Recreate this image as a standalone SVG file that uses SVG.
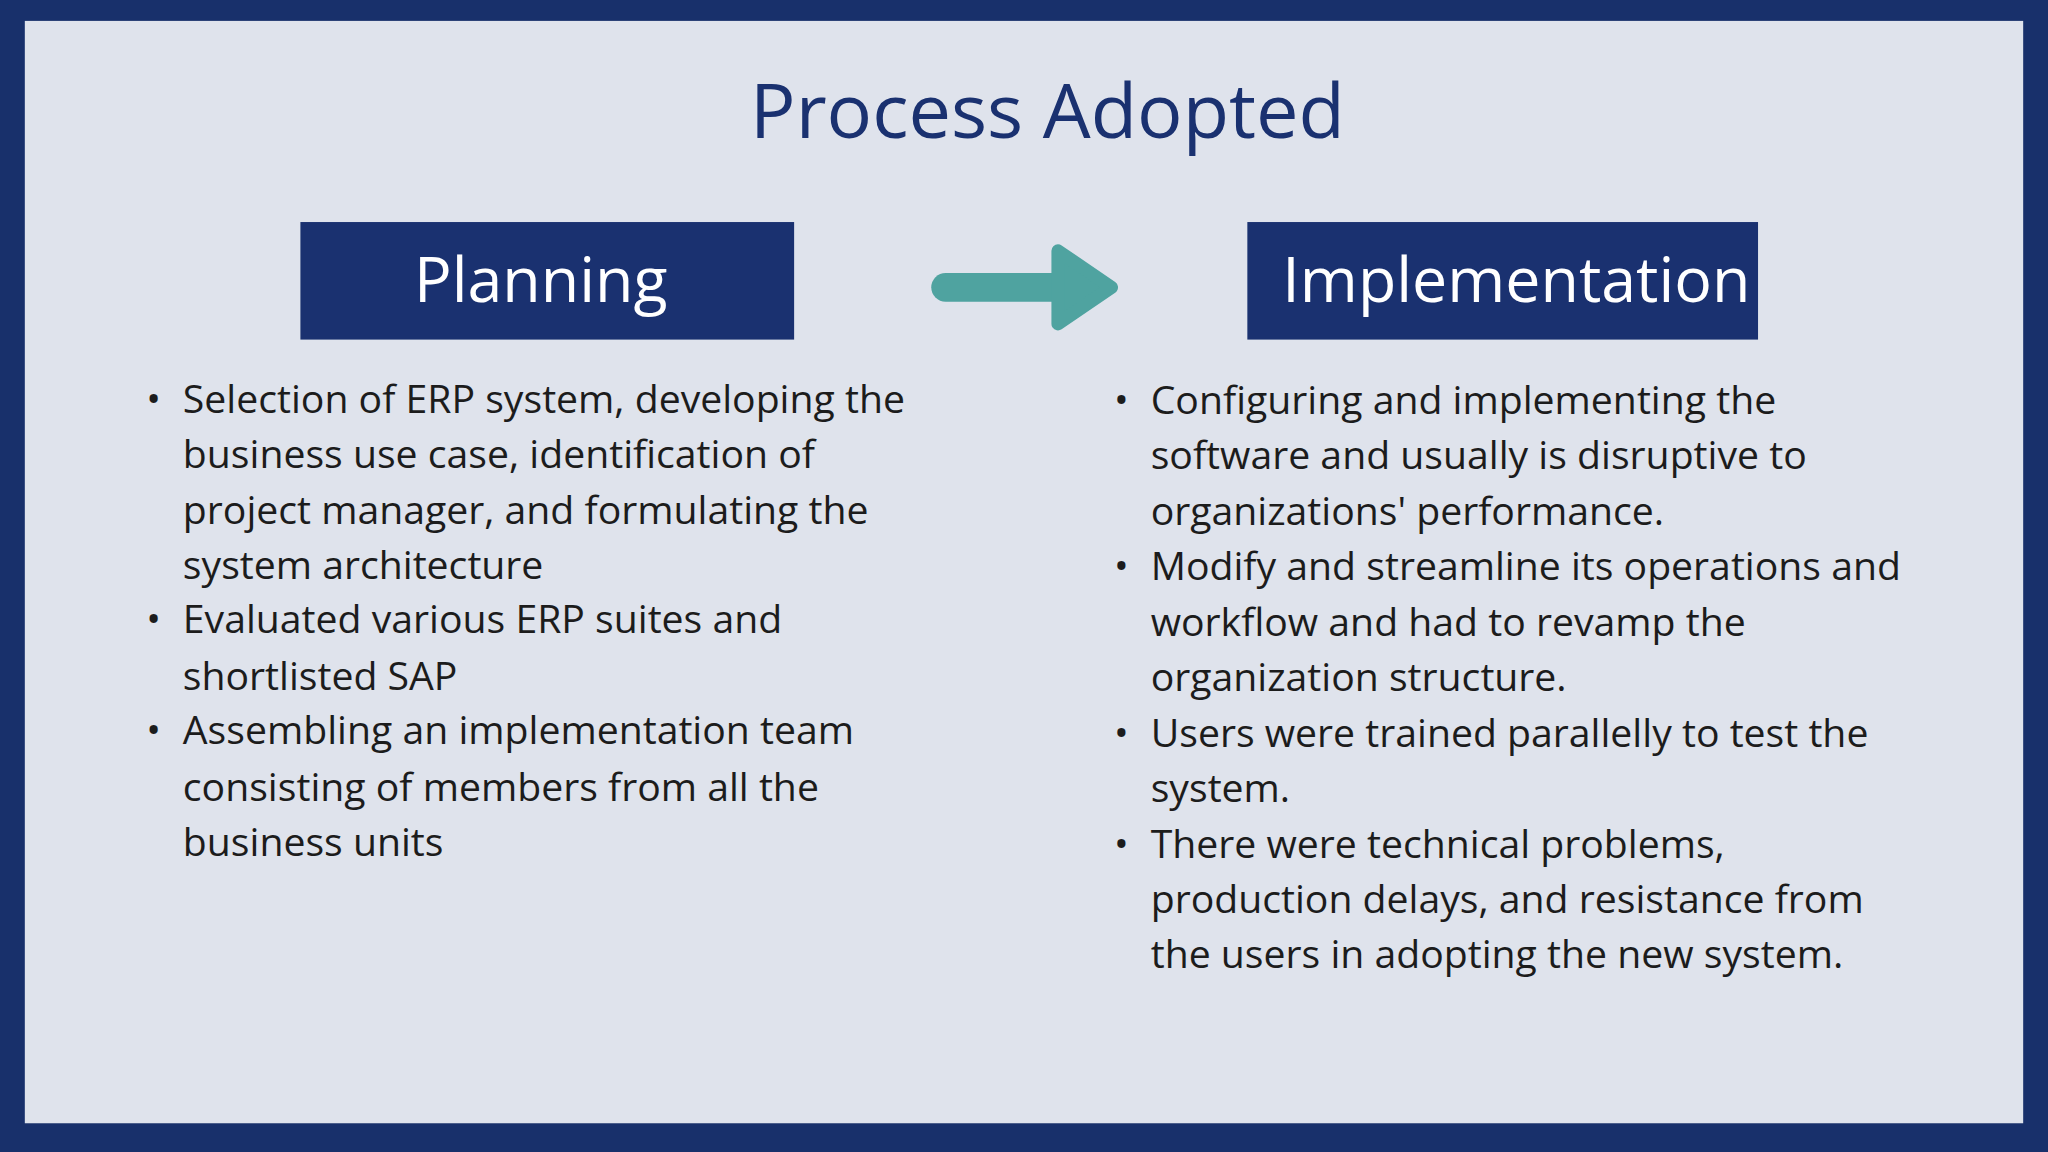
<svg xmlns="http://www.w3.org/2000/svg" width="2048" height="1152" viewBox="0 0 2048 1152">
<style>
.t{font-family:"Open Sans","Noto Sans",sans-serif;fill:#1c1c1c;font-size:30px}
.h{font-family:"Open Sans","Noto Sans",sans-serif;fill:#fff;font-size:48px;text-anchor:middle}
.b{fill:#1a3170}
</style>
<rect width="2048" height="1152" fill="#18306b"/>
<g transform="scale(1.30612)">
<rect x="19" y="16" width="1530" height="844" fill="#dfe3ec"/>
<text x="802" y="106" style="font-family:'Open Sans','Noto Sans',sans-serif;font-size:58px;fill:#1a3170;text-anchor:middle">Process Adopted</text>
<g id="planning"><rect class="b" x="230" y="170" width="378" height="90"/><text class="h" x="414" y="231">Planning</text></g>
<g id="implementation"><rect class="b" x="955" y="170" width="391" height="90"/><text class="h" x="1161" y="231">Implementation</text></g>
<g id="connectors">
<line x1="724" y1="220" x2="812" y2="220" stroke="#4fa3a0" stroke-width="22" stroke-linecap="round"/>
<path d="M810,192 L851,220 L810,248 Z" fill="#4fa3a0" stroke="#4fa3a0" stroke-width="10" stroke-linejoin="round"/>
</g>
<g id="planning-text" class="t">
<text x="112" y="316">•</text><text x="140" y="316">Selection of  ERP system, developing the</text>
<text x="140" y="358">business use case, identification of</text>
<text x="140" y="401">project manager, and formulating the</text>
<text x="140" y="443">system architecture</text>
<text x="112" y="485">•</text><text x="140" y="485">Evaluated various ERP suites and</text>
<text x="140" y="528">shortlisted SAP</text>
<text x="112" y="570">•</text><text x="140" y="570">Assembling an implementation team</text>
<text x="140" y="613">consisting of members from all the</text>
<text x="140" y="655">business units</text>
</g>
<g id="impl-text" class="t">
<text x="853" y="317">•</text><text x="881" y="317">Configuring and implementing the</text>
<text x="881" y="359">software and usually is disruptive to</text>
<text x="881" y="402">organizations' performance.</text>
<text x="853" y="444">•</text><text x="881" y="444">Modify and streamline its operations and</text>
<text x="881" y="487">workflow and had to revamp the</text>
<text x="881" y="529">organization structure.</text>
<text x="853" y="572">•</text><text x="881" y="572">Users were trained parallelly to test the</text>
<text x="881" y="614">system.</text>
<text x="853" y="657">•</text><text x="881" y="657">There were technical problems,</text>
<text x="881" y="699">production delays, and resistance from</text>
<text x="881" y="741">the users in adopting the new system.</text>
</g>
</g>
</svg>
